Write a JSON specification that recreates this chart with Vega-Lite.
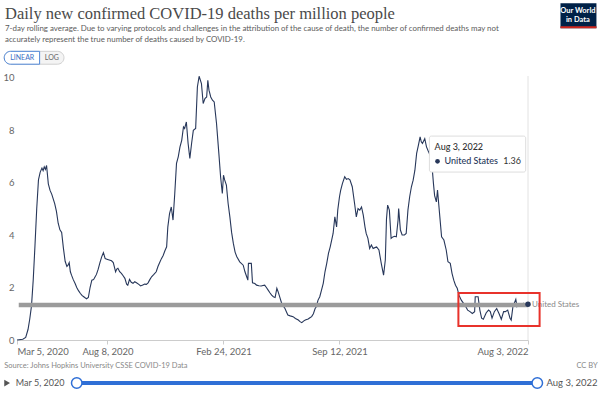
{
"$schema": "https://vega.github.io/schema/vega-lite/v6.json",
"width": 511, "height": 264,
"autosize": {"type": "none"},
"padding": {"left": 17, "top": 76, "right": 72, "bottom": 56},
"background": "white",
"config": {"font": "Lato", "view": {"stroke": null}},
"title": {
  "text": "Daily new confirmed COVID-19 deaths per million people",
  "subtitle": ["7-day rolling average. Due to varying protocols and challenges in the attribution of the cause of death, the number of confirmed deaths may not", "accurately represent the true number of deaths caused by COVID-19."],
  "anchor": "start", "frame": "group", "dx": -12, "offset": -41,
  "font": "Liberation Serif", "fontSize": 16.5, "fontWeight": "normal", "color": "#4a4a4a",
  "subtitleFont": "Lato", "subtitleFontSize": 7.9, "subtitleColor": "#5b5b5b", "subtitlePadding": 3, "subtitleLineHeight": 11
},
"data": {"values": [{}]},
"datasets": {
 "us": [
{"date":"2020-03-05","v":0},{"date":"2020-03-15","v":0.03},{"date":"2020-03-20","v":0.1},{"date":"2020-03-24","v":0.4},{"date":"2020-03-27","v":0.8},{"date":"2020-03-30","v":1.3},{"date":"2020-04-02","v":2.3},{"date":"2020-04-05","v":3.6},{"date":"2020-04-08","v":5.0},{"date":"2020-04-11","v":6.1},{"date":"2020-04-14","v":6.4},{"date":"2020-04-17","v":6.55},{"date":"2020-04-19","v":6.45},{"date":"2020-04-21","v":6.6},{"date":"2020-04-23","v":6.5},{"date":"2020-04-25","v":6.65},{"date":"2020-04-28","v":5.95},{"date":"2020-05-01","v":5.7},{"date":"2020-05-04","v":5.55},{"date":"2020-05-09","v":5.2},{"date":"2020-05-12","v":4.9},{"date":"2020-05-15","v":4.45},{"date":"2020-05-18","v":4.2},{"date":"2020-05-21","v":4.1},{"date":"2020-05-24","v":3.5},{"date":"2020-05-27","v":3.0},{"date":"2020-05-30","v":2.8},{"date":"2020-06-01","v":2.85},{"date":"2020-06-03","v":2.95},{"date":"2020-06-05","v":2.6},{"date":"2020-06-07","v":2.47},{"date":"2020-06-10","v":2.3},{"date":"2020-06-13","v":2.16},{"date":"2020-06-16","v":2.0},{"date":"2020-06-19","v":1.88},{"date":"2020-06-22","v":1.78},{"date":"2020-06-25","v":1.7},{"date":"2020-06-28","v":1.65},{"date":"2020-07-01","v":1.6},{"date":"2020-07-03","v":1.57},{"date":"2020-07-06","v":1.62},{"date":"2020-07-09","v":2.0},{"date":"2020-07-12","v":2.28},{"date":"2020-07-15","v":2.3},{"date":"2020-07-17","v":2.38},{"date":"2020-07-20","v":2.5},{"date":"2020-07-23","v":2.7},{"date":"2020-07-26","v":2.95},{"date":"2020-07-29","v":3.17},{"date":"2020-08-01","v":3.33},{"date":"2020-08-04","v":3.1},{"date":"2020-08-07","v":3.08},{"date":"2020-08-11","v":3.05},{"date":"2020-08-15","v":3.02},{"date":"2020-08-18","v":2.95},{"date":"2020-08-22","v":2.6},{"date":"2020-08-24","v":2.7},{"date":"2020-08-26","v":2.73},{"date":"2020-08-29","v":2.6},{"date":"2020-09-01","v":2.54},{"date":"2020-09-04","v":2.45},{"date":"2020-09-07","v":2.35},{"date":"2020-09-10","v":2.13},{"date":"2020-09-12","v":2.09},{"date":"2020-09-15","v":2.31},{"date":"2020-09-18","v":2.2},{"date":"2020-09-21","v":2.16},{"date":"2020-09-24","v":2.22},{"date":"2020-09-27","v":2.18},{"date":"2020-10-01","v":2.12},{"date":"2020-10-04","v":2.06},{"date":"2020-10-08","v":2.1},{"date":"2020-10-11","v":2.13},{"date":"2020-10-14","v":2.12},{"date":"2020-10-17","v":2.18},{"date":"2020-10-20","v":2.3},{"date":"2020-10-23","v":2.41},{"date":"2020-10-27","v":2.5},{"date":"2020-10-31","v":2.6},{"date":"2020-11-03","v":2.8},{"date":"2020-11-06","v":2.95},{"date":"2020-11-09","v":3.1},{"date":"2020-11-12","v":3.22},{"date":"2020-11-15","v":3.4},{"date":"2020-11-18","v":3.55},{"date":"2020-11-20","v":4.3},{"date":"2020-11-23","v":4.82},{"date":"2020-11-26","v":5.07},{"date":"2020-11-29","v":4.57},{"date":"2020-12-02","v":5.58},{"date":"2020-12-05","v":6.73},{"date":"2020-12-08","v":6.98},{"date":"2020-12-11","v":7.36},{"date":"2020-12-14","v":7.61},{"date":"2020-12-17","v":8.12},{"date":"2020-12-19","v":8.06},{"date":"2020-12-22","v":8.31},{"date":"2020-12-25","v":7.49},{"date":"2020-12-28","v":6.92},{"date":"2020-12-31","v":7.49},{"date":"2021-01-03","v":7.99},{"date":"2021-01-07","v":8.06},{"date":"2021-01-10","v":9.64},{"date":"2021-01-13","v":10.05},{"date":"2021-01-17","v":9.77},{"date":"2021-01-20","v":9.01},{"date":"2021-01-23","v":9.2},{"date":"2021-01-26","v":9.26},{"date":"2021-01-28","v":9.9},{"date":"2021-01-30","v":9.52},{"date":"2021-02-02","v":9.26},{"date":"2021-02-05","v":9.14},{"date":"2021-02-08","v":9.07},{"date":"2021-02-12","v":8.25},{"date":"2021-02-16","v":7.11},{"date":"2021-02-19","v":6.22},{"date":"2021-02-22","v":5.58},{"date":"2021-02-24","v":6.28},{"date":"2021-02-26","v":6.1},{"date":"2021-03-01","v":5.9},{"date":"2021-03-04","v":5.2},{"date":"2021-03-07","v":4.69},{"date":"2021-03-10","v":4.1},{"date":"2021-03-13","v":3.68},{"date":"2021-03-16","v":3.35},{"date":"2021-03-19","v":3.17},{"date":"2021-03-24","v":2.98},{"date":"2021-03-30","v":2.85},{"date":"2021-04-02","v":2.6},{"date":"2021-04-05","v":2.41},{"date":"2021-04-07","v":2.28},{"date":"2021-04-08","v":2.92},{"date":"2021-04-13","v":2.92},{"date":"2021-04-15","v":2.18},{"date":"2021-04-19","v":2.15},{"date":"2021-04-22","v":2.09},{"date":"2021-04-26","v":2.07},{"date":"2021-04-30","v":2.06},{"date":"2021-05-03","v":2.08},{"date":"2021-05-06","v":2.09},{"date":"2021-05-09","v":2.0},{"date":"2021-05-12","v":1.9},{"date":"2021-05-15","v":1.8},{"date":"2021-05-18","v":1.71},{"date":"2021-05-21","v":1.65},{"date":"2021-05-24","v":1.62},{"date":"2021-05-27","v":1.97},{"date":"2021-05-29","v":1.85},{"date":"2021-05-31","v":1.71},{"date":"2021-06-04","v":1.42},{"date":"2021-06-07","v":1.3},{"date":"2021-06-10","v":1.2},{"date":"2021-06-13","v":1.05},{"date":"2021-06-15","v":0.95},{"date":"2021-06-19","v":0.92},{"date":"2021-06-24","v":0.89},{"date":"2021-06-28","v":0.82},{"date":"2021-07-03","v":0.76},{"date":"2021-07-06","v":0.7},{"date":"2021-07-09","v":0.66},{"date":"2021-07-12","v":0.72},{"date":"2021-07-15","v":0.76},{"date":"2021-07-20","v":0.8},{"date":"2021-07-23","v":0.85},{"date":"2021-07-26","v":0.89},{"date":"2021-07-29","v":1.0},{"date":"2021-08-01","v":1.2},{"date":"2021-08-03","v":1.27},{"date":"2021-08-06","v":1.52},{"date":"2021-08-09","v":1.65},{"date":"2021-08-12","v":1.9},{"date":"2021-08-15","v":2.16},{"date":"2021-08-18","v":2.6},{"date":"2021-08-21","v":2.92},{"date":"2021-08-24","v":3.3},{"date":"2021-08-27","v":3.55},{"date":"2021-09-01","v":4.06},{"date":"2021-09-04","v":4.69},{"date":"2021-09-07","v":4.31},{"date":"2021-09-09","v":4.95},{"date":"2021-09-12","v":5.46},{"date":"2021-09-14","v":5.7},{"date":"2021-09-17","v":5.96},{"date":"2021-09-21","v":6.22},{"date":"2021-09-24","v":6.12},{"date":"2021-09-27","v":6.15},{"date":"2021-09-30","v":6.1},{"date":"2021-10-04","v":5.84},{"date":"2021-10-08","v":5.2},{"date":"2021-10-11","v":4.69},{"date":"2021-10-14","v":5.01},{"date":"2021-10-17","v":4.95},{"date":"2021-10-20","v":5.07},{"date":"2021-10-23","v":4.76},{"date":"2021-10-26","v":4.3},{"date":"2021-10-28","v":4.06},{"date":"2021-10-31","v":3.87},{"date":"2021-11-03","v":3.49},{"date":"2021-11-06","v":3.62},{"date":"2021-11-09","v":3.49},{"date":"2021-11-12","v":3.52},{"date":"2021-11-15","v":3.55},{"date":"2021-11-19","v":3.43},{"date":"2021-11-23","v":2.92},{"date":"2021-11-27","v":2.47},{"date":"2021-11-30","v":3.05},{"date":"2021-12-02","v":4.6},{"date":"2021-12-04","v":5.14},{"date":"2021-12-07","v":4.95},{"date":"2021-12-10","v":3.87},{"date":"2021-12-13","v":3.93},{"date":"2021-12-16","v":3.95},{"date":"2021-12-19","v":3.93},{"date":"2021-12-22","v":4.57},{"date":"2021-12-23","v":5.01},{"date":"2021-12-26","v":4.19},{"date":"2021-12-29","v":4.0},{"date":"2022-01-02","v":4.0},{"date":"2022-01-05","v":4.06},{"date":"2022-01-08","v":4.95},{"date":"2022-01-11","v":5.46},{"date":"2022-01-14","v":5.84},{"date":"2022-01-17","v":6.09},{"date":"2022-01-20","v":6.47},{"date":"2022-01-23","v":7.11},{"date":"2022-01-26","v":7.42},{"date":"2022-01-29","v":7.74},{"date":"2022-01-31","v":7.55},{"date":"2022-02-02","v":7.49},{"date":"2022-02-06","v":7.67},{"date":"2022-02-09","v":7.36},{"date":"2022-02-12","v":7.2},{"date":"2022-02-16","v":7.0},{"date":"2022-02-19","v":6.5},{"date":"2022-02-21","v":5.96},{"date":"2022-02-23","v":5.5},{"date":"2022-02-26","v":5.26},{"date":"2022-02-28","v":5.71},{"date":"2022-03-02","v":5.2},{"date":"2022-03-04","v":4.69},{"date":"2022-03-07","v":3.93},{"date":"2022-03-11","v":3.81},{"date":"2022-03-15","v":3.43},{"date":"2022-03-18","v":2.98},{"date":"2022-03-22","v":2.92},{"date":"2022-03-25","v":2.54},{"date":"2022-03-28","v":2.28},{"date":"2022-03-31","v":2.09},{"date":"2022-04-03","v":1.97},{"date":"2022-04-06","v":1.71},{"date":"2022-04-10","v":1.52},{"date":"2022-04-16","v":1.33},{"date":"2022-04-21","v":1.14},{"date":"2022-04-25","v":1.08},{"date":"2022-04-29","v":1.01},{"date":"2022-05-03","v":1.08},{"date":"2022-05-04","v":1.65},{"date":"2022-05-09","v":1.65},{"date":"2022-05-12","v":1.14},{"date":"2022-05-15","v":0.83},{"date":"2022-05-18","v":0.79},{"date":"2022-05-23","v":1.04},{"date":"2022-05-27","v":1.14},{"date":"2022-05-30","v":1.08},{"date":"2022-06-02","v":0.83},{"date":"2022-06-06","v":1.08},{"date":"2022-06-10","v":1.2},{"date":"2022-06-14","v":1.01},{"date":"2022-06-18","v":0.79},{"date":"2022-06-22","v":1.08},{"date":"2022-06-25","v":1.08},{"date":"2022-06-29","v":1.14},{"date":"2022-07-03","v":0.83},{"date":"2022-07-05","v":0.76},{"date":"2022-07-08","v":1.27},{"date":"2022-07-13","v":1.55},{"date":"2022-07-15","v":1.27},{"date":"2022-07-18","v":1.33},{"date":"2022-07-22","v":1.29},{"date":"2022-07-26","v":1.4},{"date":"2022-07-30","v":1.29},{"date":"2022-08-03","v":1.36}
 ]
},
"layer": [
 {"mark": {"type": "rule", "color": "#e2e2e2", "strokeWidth": 1},
  "encoding": {"x": {"datum": {"year": 2022, "month": 8, "date": 3}, "type": "temporal"}, "y": {"datum": 0, "type": "quantitative"}, "y2": {"datum": 10.06}}},
 {"data": {"name": "us"},
  "mark": {"type": "line", "color": "#27375a", "strokeWidth": 1.1, "interpolate": "linear"},
  "encoding": {
   "x": {"field": "date", "type": "temporal",
     "scale": {"domain": [{"year": 2020, "month": 3, "date": 5}, {"year": 2022, "month": 8, "date": 3}]},
     "axis": {"title": null, "grid": false, "format": "%b %-d, %Y", "labelFlush": true,
       "values": [{"year": 2020, "month": 3, "date": 5}, {"year": 2020, "month": 8, "date": 8}, {"year": 2021, "month": 2, "date": 24}, {"year": 2021, "month": 9, "date": 12}, {"year": 2022, "month": 8, "date": 3}],
       "domainColor": "#cccccc", "tickColor": "#cccccc", "tickSize": 4, "labelPadding": 2, "labelFontSize": 9.5, "labelColor": "#666666", "labelFont": "Lato"}},
   "y": {"field": "v", "type": "quantitative",
     "scale": {"domain": [0, 10.06], "nice": false, "zero": false},
     "axis": {"title": null, "values": [0, 2, 4, 6, 8, 10], "domain": false, "ticks": false, "gridDash": [2, 2], "gridColor": "#dddddd", "labelColor": "#666666", "labelFontSize": 9.5, "labelPadding": 3, "labelFont": "Lato"}}
  }},
 {"mark": {"type": "rule", "color": "#9b9b9b", "strokeWidth": 4.5},
  "encoding": {"x": {"datum": {"year": 2020, "month": 3, "date": 8}, "type": "temporal"}, "x2": {"datum": {"year": 2022, "month": 8, "date": 3}}, "y": {"datum": 1.33, "type": "quantitative"}}},
 {"mark": {"type": "circle", "size": 30, "color": "#27375a", "opacity": 1},
  "encoding": {"x": {"datum": {"year": 2022, "month": 8, "date": 3}, "type": "temporal"}, "y": {"datum": 1.36, "type": "quantitative"}}},
 {"mark": {"type": "text", "text": "United States", "align": "left", "baseline": "middle", "dx": 4, "fontSize": 8, "color": "#8a8a8a"},
  "encoding": {"x": {"datum": {"year": 2022, "month": 8, "date": 3}, "type": "temporal"}, "y": {"datum": 1.33, "type": "quantitative"}}},
 {"mark": {"type": "rect", "fillOpacity": 0, "fill": "white", "stroke": "#e8322b", "strokeWidth": 2},
  "encoding": {"x": {"datum": {"year": 2022, "month": 4, "date": 5}, "type": "temporal"}, "x2": {"datum": {"year": 2022, "month": 8, "date": 23}}, "y": {"datum": 1.79, "type": "quantitative"}, "y2": {"datum": 0.53}}},
 {"mark": {"type": "rect", "fill": "white", "stroke": "#dddddd", "strokeWidth": 1, "cornerRadius": 2},
  "encoding": {"x": {"datum": {"year": 2022, "month": 2, "date": 14}, "type": "temporal"}, "x2": {"datum": {"year": 2022, "month": 7, "date": 30}}, "y": {"datum": 7.77, "type": "quantitative"}, "y2": {"datum": 6.4}}},
 {"mark": {"type": "text", "text": "Aug 3, 2022", "align": "left", "baseline": "middle", "fontSize": 9, "fontWeight": 500, "color": "#333333"},
  "encoding": {"x": {"datum": {"year": 2022, "month": 2, "date": 23}, "type": "temporal"}, "y": {"datum": 7.35, "type": "quantitative"}}},
 {"mark": {"type": "circle", "size": 22, "color": "#27375a", "opacity": 1},
  "encoding": {"x": {"datum": {"year": 2022, "month": 2, "date": 28}, "type": "temporal"}, "y": {"datum": 6.81, "type": "quantitative"}}},
 {"mark": {"type": "text", "text": "United States", "align": "left", "baseline": "middle", "fontSize": 9, "fontWeight": 500, "color": "#27375a"},
  "encoding": {"x": {"datum": {"year": 2022, "month": 3, "date": 12}, "type": "temporal"}, "y": {"datum": 6.81, "type": "quantitative"}}},
 {"mark": {"type": "text", "text": "1.36", "align": "right", "baseline": "middle", "fontSize": 9, "color": "#333333"},
  "encoding": {"x": {"datum": {"year": 2022, "month": 7, "date": 22}, "type": "temporal"}, "y": {"datum": 6.81, "type": "quantitative"}}},
 {"mark": {"type": "rect", "fill": "#f4f4f4", "stroke": "#d0d0d0", "strokeWidth": 1, "cornerRadius": 7},
  "encoding": {"x": {"datum": {"year": 2020, "month": 2, "date": 12}, "type": "temporal"}, "x2": {"datum": {"year": 2020, "month": 5, "date": 25}}, "y": {"datum": 11.0, "type": "quantitative"}, "y2": {"datum": 10.51}}},
 {"mark": {"type": "rect", "fill": "white", "stroke": "#4f86d6", "strokeWidth": 1, "cornerRadiusTopLeft": 7, "cornerRadiusBottomLeft": 7},
  "encoding": {"x": {"datum": {"year": 2020, "month": 2, "date": 12}, "type": "temporal"}, "x2": {"datum": {"year": 2020, "month": 4, "date": 13}}, "y": {"datum": 11.0, "type": "quantitative"}, "y2": {"datum": 10.51}}},
 {"mark": {"type": "text", "text": "LINEAR", "align": "center", "baseline": "middle", "fontSize": 7, "color": "#3a6fc4"},
  "encoding": {"x": {"datum": {"year": 2020, "month": 3, "date": 14}, "type": "temporal"}, "y": {"datum": 10.755, "type": "quantitative"}}},
 {"mark": {"type": "text", "text": "LOG", "align": "center", "baseline": "middle", "fontSize": 7, "color": "#666666"},
  "encoding": {"x": {"datum": {"year": 2020, "month": 5, "date": 4}, "type": "temporal"}, "y": {"datum": 10.755, "type": "quantitative"}}},
 {"mark": {"type": "rect", "fill": "#002147"},
  "encoding": {"x": {"datum": {"year": 2022, "month": 9, "date": 28}, "type": "temporal"}, "x2": {"datum": {"year": 2022, "month": 11, "date": 29}}, "y": {"datum": 12.83, "type": "quantitative"}, "y2": {"datum": 11.88}}},
 {"mark": {"type": "rect", "fill": "#ce261e"},
  "encoding": {"x": {"datum": {"year": 2022, "month": 9, "date": 28}, "type": "temporal"}, "x2": {"datum": {"year": 2022, "month": 11, "date": 29}}, "y": {"datum": 11.96, "type": "quantitative"}, "y2": {"datum": 11.88}}},
 {"mark": {"type": "text", "text": "Our World", "align": "center", "baseline": "middle", "fontSize": 7.5, "fontWeight": "bold", "color": "white"},
  "encoding": {"x": {"datum": {"year": 2022, "month": 10, "date": 28}, "type": "temporal"}, "y": {"datum": 12.52, "type": "quantitative"}}},
 {"mark": {"type": "text", "text": "in Data", "align": "center", "baseline": "middle", "fontSize": 7.5, "fontWeight": "bold", "color": "white"},
  "encoding": {"x": {"datum": {"year": 2022, "month": 10, "date": 28}, "type": "temporal"}, "y": {"datum": 12.18, "type": "quantitative"}}},
 {"mark": {"type": "text", "text": "Source: Johns Hopkins University CSSE COVID-19 Data", "align": "left", "baseline": "middle", "fontSize": 7.5, "color": "#888888"},
  "encoding": {"x": {"datum": {"year": 2020, "month": 2, "date": 12}, "type": "temporal"}, "y": {"datum": -0.99, "type": "quantitative"}}},
 {"mark": {"type": "text", "text": "CC BY", "align": "right", "baseline": "middle", "fontSize": 7.5, "color": "#888888"},
  "encoding": {"x": {"datum": {"year": 2022, "month": 12, "date": 1}, "type": "temporal"}, "y": {"datum": -0.99, "type": "quantitative"}}},
 {"mark": {"type": "point", "shape": "triangle-right", "filled": true, "size": 45, "color": "#555555", "opacity": 1},
  "encoding": {"x": {"datum": {"year": 2020, "month": 2, "date": 17}, "type": "temporal"}, "y": {"datum": -1.64, "type": "quantitative"}}},
 {"mark": {"type": "text", "text": "Mar 5, 2020", "align": "left", "baseline": "middle", "fontSize": 9, "color": "#555555"},
  "encoding": {"x": {"datum": {"year": 2020, "month": 3, "date": 3}, "type": "temporal"}, "y": {"datum": -1.64, "type": "quantitative"}}},
 {"mark": {"type": "rule", "color": "#2f6fd6", "strokeWidth": 4},
  "encoding": {"x": {"datum": {"year": 2020, "month": 6, "date": 16}, "type": "temporal"}, "x2": {"datum": {"year": 2022, "month": 8, "date": 19}}, "y": {"datum": -1.64, "type": "quantitative"}}},
 {"mark": {"type": "point", "shape": "circle", "filled": true, "fill": "white", "stroke": "#2f6fd6", "strokeWidth": 1.5, "size": 110, "opacity": 1},
  "encoding": {"x": {"datum": {"year": 2020, "month": 6, "date": 16}, "type": "temporal"}, "y": {"datum": -1.64, "type": "quantitative"}}},
 {"mark": {"type": "point", "shape": "circle", "filled": true, "fill": "white", "stroke": "#2f6fd6", "strokeWidth": 1.5, "size": 110, "opacity": 1},
  "encoding": {"x": {"datum": {"year": 2022, "month": 8, "date": 19}, "type": "temporal"}, "y": {"datum": -1.64, "type": "quantitative"}}},
 {"mark": {"type": "text", "text": "Aug 3, 2022", "align": "right", "baseline": "middle", "fontSize": 9.5, "color": "#555555"},
  "encoding": {"x": {"datum": {"year": 2022, "month": 12, "date": 1}, "type": "temporal"}, "y": {"datum": -1.64, "type": "quantitative"}}}
]
}
